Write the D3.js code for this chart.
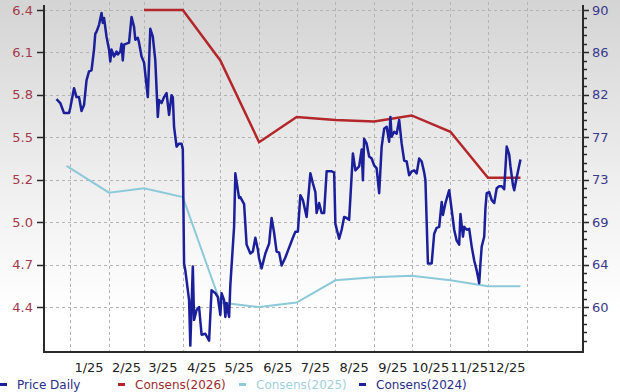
<!DOCTYPE html>
<html>
<head>
<meta charset="utf-8">
<script src="https://cdn.jsdelivr.net/npm/d3@7"></script>
<style>
  html, body { margin: 0; padding: 0; background: #fff; }
  svg { display: block; font-family: "DejaVu Sans", Verdana, sans-serif; }
</style>
</head>
<body>
<svg id="chart" width="620" height="392"></svg>
<script>
// daily price (right axis)
const priceDates = [
  "2024-12-21","2024-12-24","2024-12-27","2024-12-31",
  "2025-01-01","2025-01-04","2025-01-06","2025-01-08","2025-01-10","2025-01-12","2025-01-14","2025-01-16","2025-01-18","2025-01-20","2025-01-21","2025-01-22","2025-01-24","2025-01-26","2025-01-27","2025-01-28","2025-01-30",
  "2025-02-01","2025-02-02","2025-02-03","2025-02-05","2025-02-07","2025-02-08","2025-02-10","2025-02-11","2025-02-12","2025-02-13","2025-02-15","2025-02-17","2025-02-19","2025-02-21","2025-02-22","2025-02-24","2025-02-25","2025-02-27",
  "2025-03-01","2025-03-04","2025-03-06","2025-03-08","2025-03-10","2025-03-12","2025-03-13","2025-03-15","2025-03-17","2025-03-19","2025-03-21","2025-03-23","2025-03-24","2025-03-25","2025-03-27","2025-03-29","2025-03-31",
  "2025-04-01","2025-04-02","2025-04-03","2025-04-06","2025-04-07","2025-04-09","2025-04-10","2025-04-12","2025-04-14","2025-04-16","2025-04-19","2025-04-22","2025-04-24","2025-04-27","2025-04-29",
  "2025-05-01","2025-05-02","2025-05-04","2025-05-05","2025-05-06","2025-05-08","2025-05-09","2025-05-12","2025-05-13","2025-05-16","2025-05-17","2025-05-20","2025-05-22","2025-05-25","2025-05-27","2025-05-29","2025-05-31",
  "2025-06-01","2025-06-03","2025-06-06","2025-06-09","2025-06-11","2025-06-13","2025-06-15","2025-06-17","2025-06-19","2025-06-22","2025-06-25","2025-06-28","2025-06-30",
  "2025-07-02","2025-07-04","2025-07-06","2025-07-09","2025-07-12","2025-07-14","2025-07-16","2025-07-17","2025-07-19","2025-07-21","2025-07-23","2025-07-25","2025-07-27","2025-07-29","2025-07-31",
  "2025-08-01","2025-08-04","2025-08-06","2025-08-08","2025-08-10","2025-08-12","2025-08-15","2025-08-17","2025-08-20","2025-08-22","2025-08-23","2025-08-24","2025-08-26","2025-08-28","2025-08-30",
  "2025-09-01","2025-09-03","2025-09-05","2025-09-07","2025-09-09","2025-09-11","2025-09-13","2025-09-14","2025-09-15","2025-09-17","2025-09-19","2025-09-21","2025-09-23","2025-09-25","2025-09-27","2025-09-29",
  "2025-10-01","2025-10-03","2025-10-05","2025-10-07","2025-10-09","2025-10-11","2025-10-12","2025-10-14","2025-10-17","2025-10-19","2025-10-21","2025-10-23","2025-10-25","2025-10-26","2025-10-28","2025-10-31",
  "2025-11-02","2025-11-04","2025-11-06","2025-11-08","2025-11-09","2025-11-11","2025-11-12","2025-11-14","2025-11-16","2025-11-18","2025-11-20","2025-11-22","2025-11-24","2025-11-25","2025-11-26","2025-11-28","2025-11-29","2025-11-30",
  "2025-12-02","2025-12-04","2025-12-06","2025-12-08","2025-12-10","2025-12-12","2025-12-14","2025-12-16","2025-12-18","2025-12-19","2025-12-21","2025-12-22","2025-12-24","2025-12-27"
];
const priceValues = [
  81.0,80.6,79.6,79.6,
  80.1,82.1,81.2,81.2,79.8,80.4,82.9,83.8,83.9,86.0,87.6,87.8,88.5,89.7,88.7,89.2,87.3,
  86.0,84.8,86.0,85.3,85.8,85.5,85.8,86.6,84.9,86.5,86.6,86.7,89.3,88.3,87.0,87.2,86.7,85.3,
  84.7,81.2,88.1,87.3,84.9,79.2,80.9,80.6,81.2,81.6,79.4,81.4,81.2,78.2,76.2,76.5,76.5,
  75.9,64.4,63.7,60.7,56.1,64.1,58.7,59.7,60.0,57.2,57.3,56.6,61.7,61.4,61.0,
  59.2,61.4,60.7,59.0,60.4,59.0,62.2,68.1,73.5,71.0,71.1,70.4,66.3,65.4,65.6,67.0,65.8,
  64.9,63.9,65.4,66.4,69.0,67.5,65.6,65.5,64.2,65.0,66.0,67.0,67.6,
  67.6,71.3,70.8,69.1,73.5,72.5,71.6,69.5,70.5,69.5,69.5,73.7,73.7,73.7,73.6,
  68.4,66.9,67.8,69.1,69.0,68.8,75.5,73.8,74.2,75.9,72.8,77.0,76.5,75.2,75.0,
  74.3,74.0,71.5,76.2,78.0,78.2,76.7,79.2,77.2,77.7,77.5,78.9,76.5,74.8,74.7,73.3,
  73.7,73.8,73.5,75.0,74.7,73.6,72.8,64.4,64.4,67.4,68.0,68.1,70.6,69.3,70.5,71.8,
  69.8,67.8,66.7,66.3,69.4,67.1,68.1,67.8,67.9,66.1,64.7,63.7,62.4,64.4,66.1,67.1,70.0,71.5,
  71.6,70.8,70.5,72.0,72.2,72.2,71.9,76.2,75.4,74.2,72.3,71.8,73.1,74.9
];

// consensus estimates (left axis)
const cons2026Dates = ["2025-03-01","2025-04-01","2025-05-01","2025-06-01","2025-07-01","2025-08-01","2025-09-01","2025-10-01","2025-11-01","2025-12-01","2025-12-27"];
const cons2026Values = [6.40, 6.40, 6.06, 5.51, 5.68, 5.66, 5.65, 5.69, 5.58, 5.27, 5.27];

const cons2025Dates = ["2024-12-29","2025-02-01","2025-03-01","2025-04-01","2025-05-01","2025-06-01","2025-07-01","2025-08-01","2025-09-01","2025-10-01","2025-11-01","2025-12-01","2025-12-27"];
const cons2025Values = [5.35, 5.17, 5.20, 5.14, 4.43, 4.40, 4.43, 4.58, 4.60, 4.61, 4.58, 4.54, 4.54];

const cons2024Dates = [];
const cons2024Values = [];

const monthStarts = ["2025-01-01","2025-02-01","2025-03-01","2025-04-01","2025-05-01","2025-06-01","2025-07-01","2025-08-01","2025-09-01","2025-10-01","2025-11-01","2025-12-01","2026-01-01"];
const monthLabelDates = ["2025-01-16","2025-02-15","2025-03-16","2025-04-16","2025-05-16","2025-06-16","2025-07-16","2025-08-16","2025-09-16","2025-10-16","2025-11-16","2025-12-16"];
const monthLabels = ["1/25","2/25","3/25","4/25","5/25","6/25","7/25","8/25","9/25","10/25","11/25","12/25"];

const leftTickLabels = ["4.4","4.7","5.0","5.2","5.5","5.8","6.1","6.4"];
const rightTickLabels = ["60","64","69","73","77","82","86","90"];

const legendNames = ["Price Daily","Consens(2026)","Consens(2025)","Consens(2024)"];

const NAVY = "#1b1f9a";
const RED = "#b3262a";
const LBLUE = "#8ccad9";

const svg = d3.select("#chart");
const parse = d3.timeParse("%Y-%m-%d");

const X0 = 44, X1 = 583, Y0 = 2, Y1 = 352;

const x = d3.scaleTime()
  .domain([parse("2024-12-11"), parse("2026-02-15")])
  .range([X0, X1]);
const yL = d3.scaleLinear().domain([4.4, 6.4]).range([307, 10]);
const yR = d3.scaleLinear().domain([60, 90]).range([307, 10]);

// background gradient
const defs = svg.append("defs");
const grad = defs.append("linearGradient").attr("id", "bg")
  .attr("x1", 0).attr("y1", 0).attr("x2", 0).attr("y2", 1);
grad.append("stop").attr("offset", "0%").attr("stop-color", "#d4d4d4");
grad.append("stop").attr("offset", "45%").attr("stop-color", "#eeeeee");
grad.append("stop").attr("offset", "80%").attr("stop-color", "#ffffff");
grad.append("stop").attr("offset", "100%").attr("stop-color", "#ffffff");
svg.append("rect").attr("width", 620).attr("height", 392).attr("fill", "url(#bg)");

// grid
const leftTicks = d3.range(leftTickLabels.length).map((i) => 4.4 + (i * 2.0) / (leftTickLabels.length - 1));
const rightTicks = d3.range(rightTickLabels.length).map((i) => 60 + (i * 30) / (rightTickLabels.length - 1));

const grid = svg.append("g").attr("stroke", "#b4b4b4").attr("stroke-dasharray", "3,3").attr("stroke-width", 1);
grid.selectAll("line.h").data(leftTicks).enter().append("line")
  .attr("x1", X0).attr("x2", X1)
  .attr("y1", (d) => Math.round(yL(d)) + 0.5).attr("y2", (d) => Math.round(yL(d)) + 0.5);
grid.selectAll("line.v").data(monthStarts).enter().append("line")
  .attr("x1", (d) => Math.round(x(parse(d))) + 0.5).attr("x2", (d) => Math.round(x(parse(d))) + 0.5)
  .attr("y1", Y0).attr("y2", Y1);

// series
const lineL = d3.line().x((d) => x(d[0])).y((d) => yL(d[1]));
const lineR = d3.line().x((d) => x(d[0])).y((d) => yR(d[1]));

function zipSeries(dates, values) {
  return dates.map((d, i) => [parse(d), values[i]]);
}

svg.append("path").datum(zipSeries(cons2025Dates, cons2025Values))
  .attr("fill", "none").attr("stroke", LBLUE).attr("stroke-width", 2).attr("d", lineL);
svg.append("path").datum(zipSeries(cons2026Dates, cons2026Values))
  .attr("fill", "none").attr("stroke", RED).attr("stroke-width", 2.5).attr("d", lineL);
if (cons2024Dates.length) {
  svg.append("path").datum(zipSeries(cons2024Dates, cons2024Values))
    .attr("fill", "none").attr("stroke", NAVY).attr("stroke-width", 2).attr("d", lineL);
}
svg.append("path").datum(zipSeries(priceDates, priceValues))
  .attr("fill", "none").attr("stroke", NAVY).attr("stroke-width", 2.5)
  .attr("stroke-linejoin", "round").attr("d", lineR);

// axes frame
const frame = svg.append("g").attr("stroke", "#2a2a2a").attr("stroke-width", 2).attr("fill", "none");
frame.append("path").attr("d", `M${X0},${Y0 + 3}V${Y1}H${X1}V${Y0 + 3}`);

// left axis
const gl = svg.append("g");
gl.selectAll("line").data(leftTicks).enter().append("line")
  .attr("x1", X0 - 7).attr("x2", X0)
  .attr("y1", (d) => Math.round(yL(d)) + 0.5).attr("y2", (d) => Math.round(yL(d)) + 0.5)
  .attr("stroke", "#2a2a2a").attr("stroke-width", 1.5);
gl.selectAll("text").data(leftTicks).enter().append("text")
  .attr("x", X0 - 11).attr("y", (d) => yL(d)).attr("dy", "0.35em")
  .attr("text-anchor", "end").attr("font-size", 13).attr("fill", "#a33a4a")
  .text((d, i) => leftTickLabels[i]);

// right axis with minor ticks
const minorStep = 30 / ((rightTickLabels.length - 1) * 5);
const minorTicks = d3.range(0, 60).map((i) => 90 - i * minorStep).filter((v) => yR(v) < Y1 - 6);
const gr = svg.append("g");
gr.selectAll("line").data(minorTicks).enter().append("line")
  .attr("x1", X1).attr("x2", (d, i) => X1 + (i % 5 === 0 ? 6 : 4))
  .attr("y1", (d) => Math.round(yR(d)) + 0.5).attr("y2", (d) => Math.round(yR(d)) + 0.5)
  .attr("stroke", "#2a2a2a").attr("stroke-width", 1.5);
gr.selectAll("text").data(rightTicks).enter().append("text")
  .attr("x", X1 + 9).attr("y", (d) => yR(d)).attr("dy", "0.35em")
  .attr("font-size", 13).attr("fill", "#3a3a8c")
  .text((d, i) => rightTickLabels[i]);

// bottom labels
svg.append("g").selectAll("text").data(monthLabelDates).enter().append("text")
  .attr("x", (d) => x(parse(d))).attr("y", 372)
  .attr("text-anchor", "middle").attr("font-size", 13).attr("fill", "#222")
  .text((d, i) => monthLabels[i]);

// legend
const legendColors = [NAVY, RED, LBLUE, NAVY];
const legendTextColors = ["#2a2c86", "#9b2b2e", "#9fd0dd", "#2a2c86"];
const legendX = [0, 118, 239, 359];
const leg = svg.append("g");
legendNames.forEach((name, i) => {
  leg.append("rect").attr("x", legendX[i]).attr("y", 383).attr("width", 7).attr("height", 3)
    .attr("fill", legendColors[i]);
  leg.append("text").attr("x", legendX[i] + 17).attr("y", 389)
    .attr("font-size", 12).attr("fill", legendTextColors[i]).text(name);
});
</script>
</body>
</html>
